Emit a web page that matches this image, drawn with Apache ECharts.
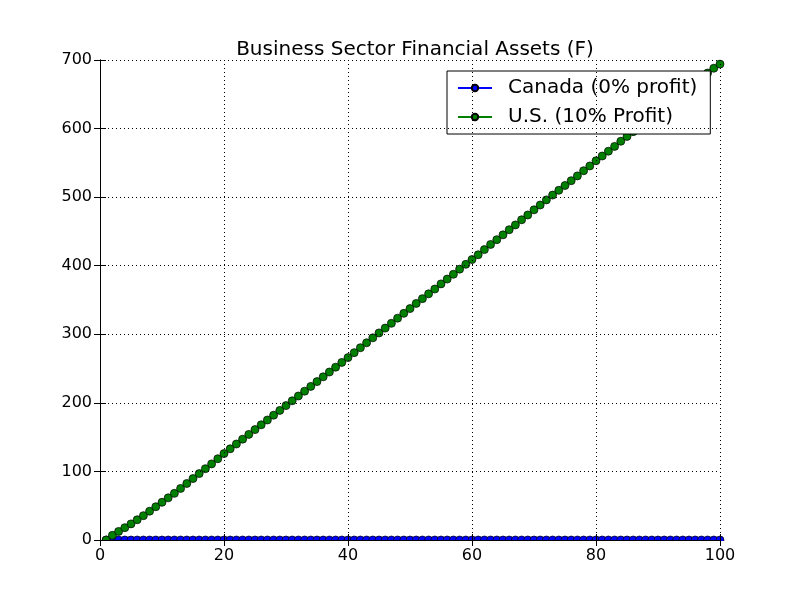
<!DOCTYPE html>
<html>
<head>
<meta charset="utf-8">
<script src="https://cdn.jsdelivr.net/npm/echarts@6/dist/echarts.min.js"></script>
<style>
  html, body { margin: 0; padding: 0; background: #fff; }
  #chart { width: 800px; height: 600px; }
</style>
</head>
<body>
<div id="chart"></div>
<script>
// time periods
var periods = [
    1, 2, 3, 4, 5, 6, 7, 8, 9, 10, 11, 12, 13, 14, 15, 16, 17, 18, 19, 20,
    21, 22, 23, 24, 25, 26, 27, 28, 29, 30, 31, 32, 33, 34, 35, 36, 37, 38, 39, 40,
    41, 42, 43, 44, 45, 46, 47, 48, 49, 50, 51, 52, 53, 54, 55, 56, 57, 58, 59, 60,
    61, 62, 63, 64, 65, 66, 67, 68, 69, 70, 71, 72, 73, 74, 75, 76, 77, 78, 79, 80,
    81, 82, 83, 84, 85, 86, 87, 88, 89, 90, 91, 92, 93, 94, 95, 96, 97, 98, 99, 100
];

// Canada, 0% profit -> financial assets stay at zero
var canadaF = [
    0, 0, 0, 0, 0, 0, 0, 0, 0, 0, 0, 0, 0, 0, 0, 0, 0, 0, 0, 0,
    0, 0, 0, 0, 0, 0, 0, 0, 0, 0, 0, 0, 0, 0, 0, 0, 0, 0, 0, 0,
    0, 0, 0, 0, 0, 0, 0, 0, 0, 0, 0, 0, 0, 0, 0, 0, 0, 0, 0, 0,
    0, 0, 0, 0, 0, 0, 0, 0, 0, 0, 0, 0, 0, 0, 0, 0, 0, 0, 0, 0,
    0, 0, 0, 0, 0, 0, 0, 0, 0, 0, 0, 0, 0, 0, 0, 0, 0, 0, 0, 0
];

// U.S., 10% profit
var usF = [
    0, 6.8, 12.5, 18, 23.5, 29.5, 35.5, 42, 48.5, 55,
    61.5, 68, 75.2, 82.4, 89.6, 96.8, 104, 111, 118.5, 126,
    133, 140, 147, 154, 161, 168, 175, 182, 189, 196,
    203, 210, 217, 224, 231, 238, 245, 252, 259, 266,
    273.2, 280.4, 287.6, 294.8, 302, 309, 316, 323.5, 330.5, 337.5,
    345, 352, 359, 366, 373.5, 380.5, 387.5, 395, 402, 409,
    416, 423.5, 431, 438, 445, 452.5, 459.5, 467, 474, 481.5,
    488.5, 496, 503, 510, 517, 524, 531, 538.5, 545.5, 553,
    560, 567, 574, 581.5, 588.5, 595.5, 602.5, 610, 617, 624,
    631, 638, 645.5, 652.5, 659.5, 666.5, 674, 681, 688, 694
];

var xTicks = { min: 0, max: 100, interval: 20 };
var yTicks = { min: 0, max: 700, interval: 100 };

var font = 'DejaVu Sans';

function pairs(xs, ys) {
    return xs.map(function (x, i) { return [x, ys[i]]; });
}

var gridLine = { show: true, lineStyle: { color: '#000', type: [1, 3], width: 1 } };

let option = {
    animation: false,
    title: {
        text: 'Business Sector Financial Assets (F)',
        left: 410,
        top: 35,
        textAlign: 'center',
        textStyle: { fontFamily: font, fontSize: 20, fontWeight: 'normal', color: '#000' }
    },
    legend: {
        orient: 'vertical',
        left: 447,
        top: 71,
        backgroundColor: '#fff',
        borderColor: '#000',
        borderWidth: 1,
        borderRadius: 0,
        padding: [7, 13, 7, 10],
        itemGap: 9,
        itemWidth: 34,
        itemHeight: 8,
        z: 10,
        textStyle: { fontFamily: font, fontSize: 20, color: '#000', padding: [0, 0, 0, 11] },
        data: ['Canada (0% profit)', 'U.S. (10% Profit)']
    },
    grid: { left: 100, right: 80, top: 60, bottom: 60 },
    // white strip just under the plot so markers sitting on y=0 look cut by the frame
    graphic: {
        z: 50,
        elements: [{
            type: 'rect',
            z: 50,
            shape: { x: 94, y: 541, width: 632, height: 5 },
            style: { fill: '#fff' }
        }]
    },
    xAxis: [{
        type: 'value',
        z: 60,
        min: xTicks.min, max: xTicks.max, interval: xTicks.interval,
        axisLine: { show: true, lineStyle: { color: '#000', width: 1 } },
        axisTick: { show: true, inside: true, length: 6, lineStyle: { color: '#000' } },
        axisLabel: { fontFamily: font, fontSize: 16, color: '#000', margin: 8 },
        splitLine: gridLine
    }, {
        type: 'value', position: 'top',
        z: 60,
        min: xTicks.min, max: xTicks.max, interval: xTicks.interval,
        axisLine: { show: true, lineStyle: { color: '#000', width: 1 } },
        axisTick: { show: true, inside: true, length: 6, lineStyle: { color: '#000' } },
        axisLabel: { show: false },
        splitLine: { show: false }
    }],
    yAxis: [{
        type: 'value',
        z: 60,
        min: yTicks.min, max: yTicks.max, interval: yTicks.interval,
        axisLine: { show: true, lineStyle: { color: '#000', width: 1 } },
        axisTick: { show: true, inside: true, length: 6, lineStyle: { color: '#000' } },
        axisLabel: { fontFamily: font, fontSize: 16, color: '#000', margin: 8 },
        splitLine: gridLine
    }, {
        type: 'value', position: 'right',
        z: 60,
        min: yTicks.min, max: yTicks.max, interval: yTicks.interval,
        axisLine: { show: true, lineStyle: { color: '#000', width: 1 } },
        axisTick: { show: true, inside: true, length: 6, lineStyle: { color: '#000' } },
        axisLabel: { show: false },
        splitLine: { show: false }
    }],
    series: [{
        name: 'Canada (0% profit)',
        type: 'line',
        data: pairs(periods, canadaF),
        symbol: 'circle',
        symbolSize: 8,
        clip: true,
        lineStyle: { color: '#0000ff', width: 1 },
        itemStyle: { color: '#0000ff', borderColor: '#000', borderWidth: 0.7 }
    }, {
        name: 'U.S. (10% Profit)',
        type: 'line',
        data: pairs(periods, usF),
        symbol: 'circle',
        symbolSize: 8,
        clip: true,
        lineStyle: { color: '#008000', width: 1 },
        itemStyle: { color: '#008000', borderColor: '#000', borderWidth: 0.7 }
    }]
};

let chart = echarts.init(document.getElementById('chart'));
chart.setOption(option);
</script>
</body>
</html>
